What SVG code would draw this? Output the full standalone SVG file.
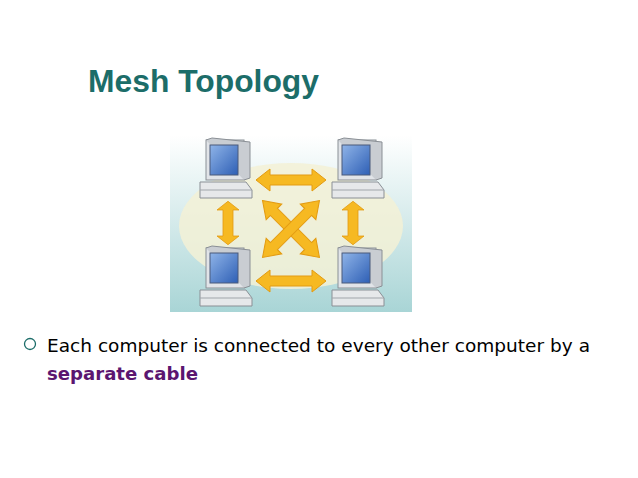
<svg xmlns="http://www.w3.org/2000/svg" width="638" height="478" viewBox="0 0 638 478">
<style>
.t{font-family:"Liberation Sans",Arial,sans-serif}
.v{font-family:"DejaVu Sans",Verdana,sans-serif}
.arr{fill:#f6b922;stroke:#e39b12;stroke-width:1}
</style>
<defs>
<linearGradient id="bg" x1="0" y1="0" x2="0" y2="1"><stop offset="0" stop-color="#ffffff"/><stop offset="1" stop-color="#a9d5d6"/></linearGradient>
<linearGradient id="scr" x1="0" y1="0" x2="1" y2="1"><stop offset="0" stop-color="#8fb4e8"/><stop offset="1" stop-color="#2e5fb5"/></linearGradient>
<path id="da" d="M-35,0 L-21,-11 L-21,-5 L21,-5 L21,-11 L35,0 L21,11 L21,5 L-21,5 L-21,11 Z"/>
<g id="pc">
<path d="M2,44 L48,44 L54,52 L54,60 L2,60 Z" fill="#e6e8ea" stroke="#8a8f95"/>
<line x1="2" y1="52" x2="54" y2="52" stroke="#a0a5aa"/>
<rect x="8" y="2" width="38" height="40" fill="#e1e4e8" stroke="#8a8f95"/>
<path d="M8,2 L14,0 L52,4 L52,40 L46,42" fill="#c9cdd2" stroke="#8a8f95"/>
<rect x="12" y="7" width="28" height="30" fill="url(#scr)" stroke="#4a5a7a"/>
</g>
</defs>
<text class="t" x="88" y="92" font-size="31" font-weight="bold" fill="#1c6d69" textLength="231" lengthAdjust="spacingAndGlyphs">Mesh Topology</text>
<g id="picture">
<rect x="170" y="135" width="242" height="177" fill="url(#bg)"/>
<ellipse cx="291" cy="226" rx="112" ry="63" fill="#f3f1d6" opacity="0.85"/>
</g>
<g id="connectors">
<use href="#da" class="arr" transform="translate(291,180)"/>
<use href="#da" class="arr" transform="translate(291,281)"/>
<use href="#da" class="arr" transform="translate(228,223) rotate(90) scale(0.62,1)"/>
<use href="#da" class="arr" transform="translate(353,223) rotate(90) scale(0.62,1)"/>
<use href="#da" class="arr" transform="translate(291,229) rotate(45) scale(1.15,1)"/>
<use href="#da" class="arr" transform="translate(291,229) rotate(-45) scale(1.15,1)"/>
</g>
<g id="pc-tl"><use href="#pc" transform="translate(198,138)"/></g>
<g id="pc-tr"><use href="#pc" transform="translate(330,138)"/></g>
<g id="pc-bl"><use href="#pc" transform="translate(198,246)"/></g>
<g id="pc-br"><use href="#pc" transform="translate(330,246)"/></g>
<circle cx="30" cy="344" r="5.5" fill="none" stroke="#1c6d69" stroke-width="1.3"/>
<text class="v" x="47" y="352" font-size="17" fill="#000" textLength="543" lengthAdjust="spacingAndGlyphs">Each computer is connected to every other computer by a</text>
<text class="v" x="47" y="380" font-size="17" font-weight="bold" fill="#5b1670" textLength="151" lengthAdjust="spacingAndGlyphs">separate cable</text>
</svg>
